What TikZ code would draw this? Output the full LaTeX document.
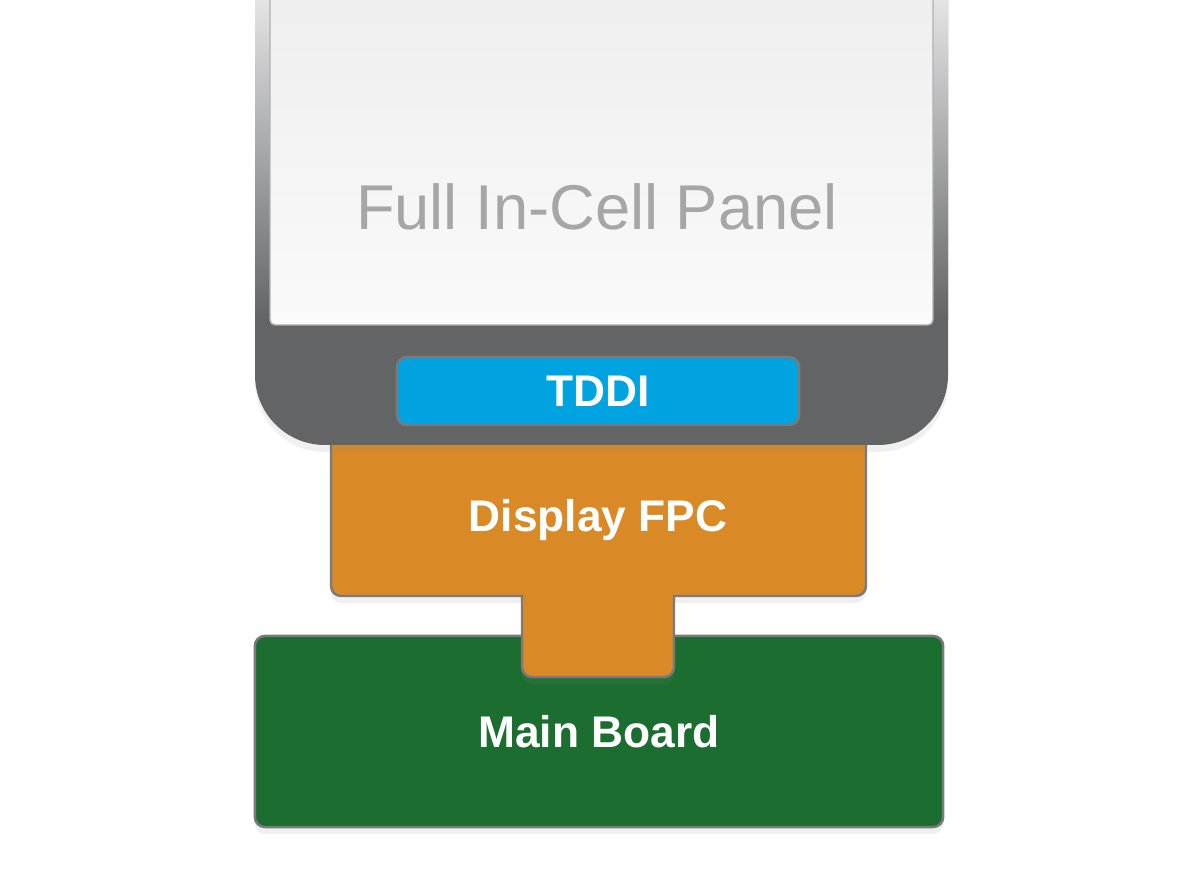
\documentclass[tikz,border=0pt]{standalone}
\usepackage{fontspec}
\setmainfont{Liberation Sans}
\usetikzlibrary{shadows}

\definecolor{panelgray}{HTML}{636466}
\definecolor{framelight}{HTML}{E4E4E5}
\definecolor{screentop}{HTML}{EDEDEE}
\definecolor{screenbot}{HTML}{FAFAFA}
\definecolor{tddiblue}{HTML}{00A3E0}
\definecolor{fpcorange}{HTML}{D98A27}
\definecolor{boardgreen}{HTML}{1C6E30}
\definecolor{edgegray}{HTML}{7A7A7C}
\definecolor{captiongray}{HTML}{A6A6A7}

\begin{document}
\begin{tikzpicture}[
    x=0.01cm, y=-0.01cm,
    block/.style={draw=edgegray, line width=0.7pt},
    soft/.style={drop shadow={opacity=0.12, shadow xshift=0pt, shadow yshift=-2pt}},
    txt/.style={font=\bfseries\fontsize{12.6}{15}\selectfont, text=white},
    caption/.style={font=\fontsize{18}{22}\selectfont, text=captiongray, anchor=base, inner sep=0pt}
]
\useasboundingbox (0,0) rectangle (1200,871);

% Main Board
\node[block, soft, fill=boardgreen, rounded corners=0.1cm, minimum width=6.88cm, minimum height=1.91cm, txt]
    (board) at (599,731.5) {Main Board};

% Display FPC (T-shaped, tab lies over the board)
\draw[block, soft, fill=fpcorange] (331,400) -- (866,400)
    [rounded corners=0.1cm] -- (866,596)
    [sharp corners] -- (674,596)
    [rounded corners=0.1cm] -- (674,677) -- (522,677)
    [sharp corners] -- (522,596)
    [rounded corners=0.1cm] -- (331,596)
    [sharp corners] -- cycle;
\node[txt] (fpc) at (598,520.5) {Display FPC};

% Full In-Cell Panel
\fill[soft, panelgray, rounded corners=0.7cm] (255,-200) rectangle (948,445);
\shade[top color=framelight, bottom color=panelgray] (255,0) rectangle (948,320);
\shade[top color=screentop, bottom color=screenbot, draw=edgegray!60, line width=0.4pt, rounded corners=0.05cm]
    (270,-50) rectangle (933,325);
\node[caption] (panel) at (597,230) {Full In-Cell Panel};

% TDDI
\node[block, fill=tddiblue, rounded corners=0.1cm, minimum width=4.02cm, minimum height=0.68cm, txt]
    (tddi) at (598,391) {TDDI};

\end{tikzpicture}
\end{document}
